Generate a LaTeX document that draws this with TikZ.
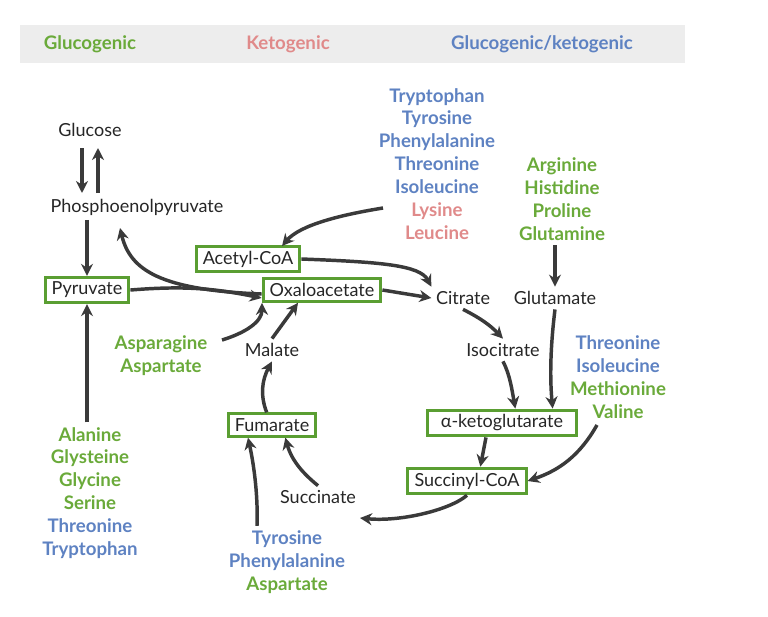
\documentclass[tikz,border=0pt]{standalone}
\usepackage{fontspec}
\setmainfont{Lato}
\usetikzlibrary{arrows.meta}
\definecolor{gr}{HTML}{6AAA3A}
\definecolor{bl}{HTML}{5E82C2}
\definecolor{pk}{HTML}{E08A8A}
\definecolor{bx}{HTML}{5A9E32}
\definecolor{ar}{HTML}{3A3A3A}
\begin{document}
\begin{tikzpicture}[x=0.75pt,y=-0.75pt,
  every node/.style={font=\fontsize{13.5}{16}\selectfont},
  lbl/.style={text=black!85},
  box/.style={draw=bx,line width=2.2pt,inner xsep=5pt,inner ysep=3.5pt,text=black!85},
  aa/.style={font=\fontsize{14}{17.2}\selectfont\bfseries,align=center},
  arr/.style={draw=ar,line width=2.6pt,-{Stealth[length=9pt,width=9pt]}}]
\useasboundingbox (0,0) rectangle (768,617);
\fill[black!7] (20,25) rectangle (685,63);
\node[aa,text=gr] (hg) at (90,44) {Glucogenic};
\node[aa,text=pk] (hk) at (288,44) {Ketogenic};
\node[aa,text=bl] (hgk) at (542,44) {Glucogenic/ketogenic};
% main nodes
\node[lbl] (glc) at (90,130) {Glucose};
\node[lbl] (pep) at (137,207) {Phosphoenolpyruvate};
\node[box] (pyr) at (87,290) {Pyruvate};
\node[box] (acc) at (248,259) {Acetyl-CoA};
\node[box] (oaa) at (322,290) {Oxaloacetate};
\node[lbl] (cit) at (463,298) {Citrate};
\node[lbl] (glu) at (555,298) {Glutamate};
\node[lbl] (iso) at (503,350) {Isocitrate};
\node[lbl] (mal) at (272,350) {Malate};
\node[box,minimum width=112pt] (akg) at (502,423) {α-ketoglutarate};
\node[box] (suc) at (467,481) {Succinyl-CoA};
\node[box] (fum) at (272,425) {Fumarate};
\node[lbl] (scn) at (318,497) {Succinate};
\coordinate (g1) at (82,148); \coordinate (g2) at (82,193);
\coordinate (g3) at (98,193); \coordinate (g4) at (98,148);
% amino acid lists
\node[aa] (top) at (437,164) {\textcolor{bl}{Tryptophan}\\\textcolor{bl}{Tyrosine}\\\textcolor{bl}{Phenylalanine}\\\textcolor{bl}{Threonine}\\\textcolor{bl}{Isoleucine}\\\textcolor{pk}{Lysine}\\\textcolor{pk}{Leucine}};
\node[aa,text=gr] (gln) at (562,199) {Arginine\\Histidine\\Proline\\Glutamine};
\node[aa] (rt) at (618,377) {\textcolor{bl}{Threonine}\\\textcolor{bl}{Isoleucine}\\\textcolor{gr}{Methionine}\\\textcolor{gr}{Valine}};
\node[aa,text=gr] (asn) at (161,356) {Asparagine\\Aspartate};
\node[aa] (bl) at (90,493) {\textcolor{gr}{Alanine}\\\textcolor{gr}{Glysteine}\\\textcolor{gr}{Glycine}\\\textcolor{gr}{Serine}\\\textcolor{bl}{Threonine}\\\textcolor{bl}{Tryptophan}};
\node[aa] (bm) at (287,562) {\textcolor{bl}{Tyrosine}\\\textcolor{bl}{Phenylalanine}\\\textcolor{gr}{Aspartate}};
% arrows
\draw[arr] (g1) -- (g2);
\draw[arr] (g3) -- (g4);
\draw[arr] (pep.south -| pyr.north) -- (pyr.north);
\draw[arr] (pyr.east) to[bend left=8] ([yshift=-6]oaa.west);
\draw[arr] ([yshift=-3]oaa.west) .. controls (160,290) and (130,270) .. (120,228);
\draw[arr] (383,208) .. controls (340,215) and (300,225) .. (282,246);
\draw[arr] (acc.east) .. controls (380,262) and (420,265) .. (cit.north west);
\draw[arr] (oaa.east) -- (cit.west);
\draw[arr] (cit.south) .. controls (480,318) and (490,325) .. (iso.north);
\draw[arr] (iso.south) .. controls (510,375) and (512,390) .. ([xshift=10]akg.north);
\draw[arr] (gln.south -| glu.north) -- (glu.north);
\draw[arr] (glu.south) .. controls (550,350) and (550,380) .. ([xshift=38]akg.north);
\draw[arr] (597,425) .. controls (580,455) and (560,470) .. (suc.east);
\draw[arr] ([xshift=-12]akg.south) -- ([xshift=10]suc.north);
\draw[arr] (suc.south) .. controls (450,510) and (400,522) .. (360,518);
\draw[arr] (scn.north) .. controls (305,475) and (292,462) .. ([xshift=10]fum.south);
\draw[arr] ([xshift=-4]fum.north) .. controls (260,395) and (262,380) .. (mal.south);
\draw[arr] (mal.north) -- ([xshift=-18]oaa.south);
\draw[arr] (222,340) .. controls (245,333) and (262,322) .. ([xshift=-45]oaa.south);
\draw[arr] (bl.north -| pyr.south) -- (pyr.south);
\draw[arr] (bm.north) ++(-30,0) .. controls (258,500) and (255,470) .. ([xshift=-18]fum.south);
\end{tikzpicture}
\end{document}
